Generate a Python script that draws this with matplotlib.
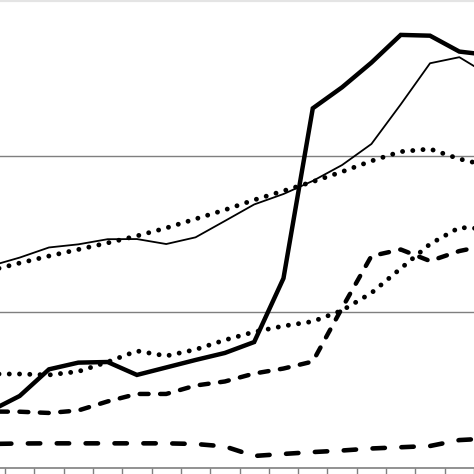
import matplotlib
matplotlib.use("Agg")
import matplotlib.pyplot as plt
import numpy as np

# category index (first and last points sit just outside the cropped view)
periods = list(range(-1, 17))

thick_solid = [3.63, 4.59, 6.30, 6.73, 6.77, 5.94, 6.42, 6.90, 7.35, 8.05,
               12.14, 23.05, 24.40, 25.98, 27.76, 27.71, 26.69, 26.47]
thin_solid = [12.93, 13.47, 14.12, 14.32, 14.65, 14.66, 14.34, 14.77, 15.82, 16.88,
              17.55, 18.39, 19.41, 20.76, 23.30, 25.94, 26.33, 25.19]
dotted_upper = [12.64, 13.12, 13.57, 13.99, 14.41, 14.86, 15.37, 15.95, 16.53, 17.17,
                17.75, 18.34, 18.98, 19.67, 20.27, 20.44, 19.80, 19.35]
dotted_lower = [6.00, 6.00, 5.94, 6.16, 6.77, 7.48, 7.16, 7.57, 8.18, 8.70,
                9.08, 9.37, 10.08, 11.20, 12.77, 14.34, 15.40, 15.31]
dashed_upper = [3.59, 3.58, 3.50, 3.66, 4.24, 4.72, 4.72, 5.26, 5.52, 6.03,
                6.35, 6.80, 10.24, 13.57, 13.99, 13.25, 13.89, 14.28]
dashed_lower = [1.51, 1.54, 1.55, 1.55, 1.55, 1.55, 1.55, 1.51, 1.35, 0.74,
                0.87, 0.99, 1.09, 1.22, 1.30, 1.38, 1.76, 1.86]

fig = plt.figure(figsize=(4.74, 4.74), dpi=100)
ax = fig.add_axes([0, 6.5 / 474, 1, 467.5 / 474])

ax.plot(periods, dashed_lower, color="black", lw=3.3, linestyle=(0, (2.7, 3.6)),
        dash_capstyle="round")
ax.plot(periods, dashed_upper, color="black", lw=3.2, linestyle=(0, (2.0, 2.6)),
        dash_capstyle="round")
ax.plot(periods, dotted_lower, color="black", lw=3.5, linestyle=(0, (0.01, 2.1)),
        dash_capstyle="round")
ax.plot(periods, dotted_upper, color="black", lw=3.5, linestyle=(0, (0.01, 2.1)),
        dash_capstyle="round")
ax.plot(periods, thin_solid, color="black", lw=1.3)
ax.plot(periods, thick_solid, color="black", lw=3.2, solid_joinstyle="miter")

ax.set_xlim(-0.671, 15.48)
ax.set_ylim(0, 30)

ax.set_yticks([10, 20])
ax.yaxis.grid(True, color="#7f7f7f", lw=1.0)
ax.axhline(30, color="#e4e4e4", lw=3, zorder=0)
ax.tick_params(axis="y", length=0, labelleft=False)

ax.set_xticks(np.arange(-0.5, 16, 1.0))
ax.tick_params(axis="x", direction="out", length=4.5, width=1.0, color="#7f7f7f",
               labelbottom=False)

for side in ["left", "right", "top"]:
    ax.spines[side].set_visible(False)
ax.spines["bottom"].set_color("#7f7f7f")
ax.spines["bottom"].set_linewidth(1.2)
ax.set_axisbelow(True)

fig.savefig("out.png", dpi=100)
